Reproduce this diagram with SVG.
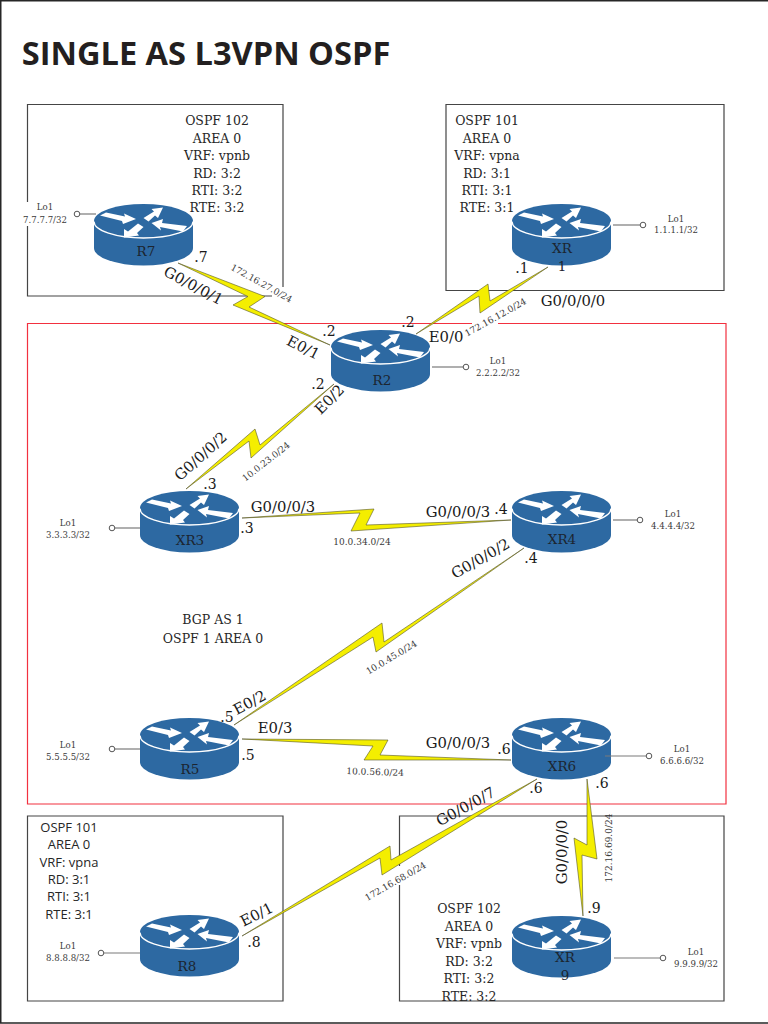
<svg xmlns="http://www.w3.org/2000/svg" width="768" height="1024" viewBox="0 0 768 1024">
<style>
text{font-family:"DejaVu Serif","Liberation Serif",serif;fill:#262626;text-anchor:middle}
.info{font-size:12.500px}
.sans{font-family:"Open Sans","Noto Sans",sans-serif;font-size:13px}
.if{font-size:14.800px;fill:#1a1a1a}
.dot{font-size:14px;fill:#1a1a1a}
.ip{font-size:9px;fill:#3a3a3a}
.lo{font-size:8.600px;fill:#3a3a3a}
.name{font-size:13.500px;fill:#1c2530}
.box{fill:none;stroke:#454545;stroke-width:1.2}
.red{fill:none;stroke:#f2303f;stroke-width:1.2}
.bolt{fill:#f4ee00;stroke:#55552a;stroke-width:.6;stroke-linejoin:round}
.stub{stroke:#7a7a7a;stroke-width:1.2;fill:none}
.end{fill:#fff;stroke:#555;stroke-width:1}
</style>
<defs>
<g id="router">
<path d="M0 17V44A49.5 17.5 0 0 0 99 44V17Z" fill="#2d69a2"/>
<ellipse cx="49.5" cy="17" rx="49.5" ry="17" fill="#2d69a2"/>
<path d="M0 17.500A49.500 16.500 0 0 0 99 17.500" fill="none" stroke="#fff" stroke-width="1.300"/>
<g fill="#fff">
<polygon points="6,11.500 12,8.500 31,12.500 30,9.500 42,15 29,20 28,17"/>
<polygon points="49.500,14 54.500,17.500 61,11.500 64,14 69,3.500 57.500,5 60,7.500"/>
<polygon points="57.500,19 69,15 68,19 93,22 89,27.500 66,23 67,26.500"/>
<polygon points="30,33.500 30,25 34,27.500 44,19.500 49.500,23 43,29 45,31.500"/>
</g>
</g>
</defs>
<rect width="768" height="1024" fill="#fff"/>
<path d="M.75 1023V.75H768M0 1023H768" fill="none" stroke="#262626" stroke-width="1.500"/>
<text x="206" y="65" style="font-family:'Open Sans','Noto Sans',sans-serif;font-size:32.600px;font-weight:700;fill:#231f20">SINGLE AS L3VPN OSPF</text>

<g id="regions">
<path class="box" d="M27.500 202V104.500H283V287M272 296H27.500V226"/>
<path class="box" d="M446 104.500H724V290.500H446Z"/>
<path class="red" d="M472 323.500H27.500V804H726V323.500H498"/>
<path class="box" d="M27.500 816H283V1001H27.500Z"/>
<path class="box" d="M399.500 866V816H724V1001H399.500V885"/>
</g>

<g id="connectors">
<polygon class="bolt" points="178,263 265,296.500 249,307 330,345 233,305 248,296.500"/>
<polygon class="bolt" points="416,334 488,284 490,301 548,267 480,313 479,296"/>
<polygon class="bolt" points="186,489 255,429 260,445 334,384 251,458 249,441"/>
<polygon class="bolt" points="242,518 374,509 366,525 511,520 351,531 360,513"/>
<polygon class="bolt" points="234,725 382,623 384,642 524,548 376,652 373,637"/>
<polygon class="bolt" points="242,739 388,740 380,755 511,760 364,760 373,746"/>
<polygon class="bolt" points="242,936 390,846 391,860 537,779 382,875 380,858"/>
<polygon class="bolt" points="587,779 597,859 582,855 583,916 574,838 587,845"/>
</g>

<g id="node-R7">
<use href="#router" x="94" y="204"/>
<path class="stub" d="M80 214H96"/><circle class="end" cx="77" cy="214" r="2.800"/>
<text class="name" x="146" y="256">R7</text>
<text class="lo" x="45" y="210">Lo1</text><text class="lo" x="45" y="223">7.7.7.7/32</text>
</g>
<g id="node-XR1">
<use href="#router" x="512" y="204"/>
<path class="stub" d="M613 225H640"/><circle class="end" cx="643" cy="225" r="2.800"/>
<text class="name" x="562" y="253">XR</text><text class="name" x="562" y="271">1</text>
<text class="lo" x="676" y="222">Lo1</text><text class="lo" x="676" y="233">1.1.1.1/32</text>
</g>
<g id="node-R2">
<use href="#router" x="331" y="330"/>
<path class="stub" d="M432 367H463"/><circle class="end" cx="466" cy="367" r="2.800"/>
<text class="name" x="382" y="385">R2</text>
<text class="lo" x="498" y="364">Lo1</text><text class="lo" x="498" y="376">2.2.2.2/32</text>
</g>
<g id="node-XR3">
<use href="#router" x="140" y="491"/>
<path class="stub" d="M115 528H140"/><circle class="end" cx="112" cy="528" r="2.800"/>
<text class="name" x="190" y="545">XR3</text>
<text class="lo" x="68" y="526">Lo1</text><text class="lo" x="68" y="538">3.3.3.3/32</text>
</g>
<g id="node-XR4">
<use href="#router" x="512" y="491"/>
<path class="stub" d="M613 520H637"/><circle class="end" cx="640" cy="520" r="2.800"/>
<text class="name" x="562" y="544">XR4</text>
<text class="lo" x="673" y="517">Lo1</text><text class="lo" x="673" y="529">4.4.4.4/32</text>
</g>
<g id="node-R5">
<use href="#router" x="140" y="718"/>
<path class="stub" d="M115 749H140"/><circle class="end" cx="112" cy="749" r="2.800"/>
<text class="name" x="190" y="774">R5</text>
<text class="lo" x="68" y="748">Lo1</text><text class="lo" x="68" y="760">5.5.5.5/32</text>
</g>
<g id="node-XR6">
<use href="#router" x="512" y="718"/>
<path class="stub" d="M605 756H646"/><circle class="end" cx="649" cy="756" r="2.800"/>
<text class="name" x="562" y="771">XR6</text>
<text class="lo" x="682" y="752">Lo1</text><text class="lo" x="682" y="764">6.6.6.6/32</text>
</g>
<g id="node-R8">
<use href="#router" x="140" y="915"/>
<path class="stub" d="M104 953H140"/><circle class="end" cx="101" cy="953" r="2.800"/>
<text class="name" x="187" y="971">R8</text>
<text class="lo" x="68" y="949">Lo1</text><text class="lo" x="68" y="961">8.8.8.8/32</text>
</g>
<g id="node-XR9">
<use href="#router" x="512" y="916"/>
<path class="stub" d="M614 958H660"/><circle class="end" cx="663" cy="958" r="2.800"/>
<text class="name" x="565" y="962">XR</text><text class="name" x="565" y="980">9</text>
<text class="lo" x="696" y="955">Lo1</text><text class="lo" x="696" y="967">9.9.9.9/32</text>
</g>

<g id="info-102-top">
<text class="info" x="217" y="125">OSPF 102</text><text class="info" x="217" y="143">AREA 0</text><text class="info" x="217" y="160">VRF: vpnb</text><text class="info" x="217" y="178">RD: 3:2</text><text class="info" x="217" y="195">RTI: 3:2</text><text class="info" x="217" y="212">RTE: 3:2</text>
</g>
<g id="info-101-top">
<text class="info" x="487" y="125">OSPF 101</text><text class="info" x="487" y="143">AREA 0</text><text class="info" x="487" y="160">VRF: vpna</text><text class="info" x="487" y="178">RD: 3:1</text><text class="info" x="487" y="195">RTI: 3:1</text><text class="info" x="487" y="212">RTE: 3:1</text>
</g>
<g id="info-101-bottom">
<text class="sans" x="69" y="832">OSPF 101</text><text class="sans" x="69" y="849">AREA 0</text><text class="sans" x="69" y="867">VRF: vpna</text><text class="sans" x="69" y="884">RD: 3:1</text><text class="sans" x="69" y="901">RTI: 3:1</text><text class="sans" x="69" y="919">RTE: 3:1</text>
</g>
<g id="info-102-bottom">
<text class="info" x="469" y="913">OSPF 102</text><text class="info" x="469" y="931">AREA 0</text><text class="info" x="469" y="948">VRF: vpnb</text><text class="info" x="469" y="966">RD: 3:2</text><text class="info" x="469" y="983">RTI: 3:2</text><text class="info" x="469" y="1001">RTE: 3:2</text>
</g>
<g id="info-core">
<text class="info" x="213" y="624">BGP AS 1</text><text class="info" x="213" y="643">OSPF 1 AREA 0</text>
</g>

<g id="link-labels">
<text class="dot" x="201" y="262">.7</text>
<text class="if" transform="translate(191 290) rotate(28)">G0/0/0/1</text>
<text class="ip" transform="translate(260 286) rotate(29)">172.16.27.0/24</text>
<text class="dot" x="329" y="336">.2</text>
<text class="if" transform="translate(301 352) rotate(27)">E0/1</text>
<text class="dot" x="408" y="327">.2</text>
<text class="if" x="446" y="342">E0/0</text>
<text class="ip" transform="translate(497 320) rotate(-29)">172.16.12.0/24</text>
<text class="if" x="573" y="306">G0/0/0/0</text>
<text class="dot" x="522" y="273">.1</text>
<text class="dot" x="318" y="389">.2</text>
<text class="if" transform="translate(333 403) rotate(-45)">E0/2</text>
<text class="if" transform="translate(204 460) rotate(-42)">G0/0/0/2</text>
<text class="ip" transform="translate(268 464) rotate(-38)">10.0.23.0/24</text>
<text class="dot" x="210" y="489">.3</text>
<text class="if" x="283" y="512">G0/0/0/3</text>
<text class="dot" x="247" y="533">.3</text>
<text class="ip" x="362" y="545">10.0.34.0/24</text>
<text class="if" x="458" y="517">G0/0/0/3</text>
<text class="dot" x="501" y="514">.4</text>
<text class="if" transform="translate(483 563) rotate(-30)">G0/0/0/2</text>
<text class="dot" x="531" y="563">.4</text>
<text class="ip" transform="translate(393 660) rotate(-31)">10.0.45.0/24</text>
<text class="dot" x="227" y="722">.5</text>
<text class="if" transform="translate(252 707) rotate(-28)">E0/2</text>
<text class="if" x="275" y="733">E0/3</text>
<text class="dot" x="248" y="760">.5</text>
<text class="ip" transform="translate(375 775) rotate(2)">10.0.56.0/24</text>
<text class="if" x="458" y="748">G0/0/0/3</text>
<text class="dot" x="504" y="754">.6</text>
<text class="dot" x="536" y="793">.6</text>
<text class="dot" x="602" y="788">.6</text>
<text class="if" transform="translate(468 811) rotate(-29)">G0/0/0/7</text>
<text class="ip" transform="translate(397 884) rotate(-30)">172.16.68.0/24</text>
<text class="if" transform="translate(567 852) rotate(-90)">G0/0/0/0</text>
<text class="ip" transform="translate(612 848) rotate(-90)">172.16.69.0/24</text>
<text class="dot" x="594" y="913">.9</text>
<text class="if" transform="translate(259 919) rotate(-27)">E0/1</text>
<text class="dot" x="254" y="947">.8</text>
</g>
</svg>
